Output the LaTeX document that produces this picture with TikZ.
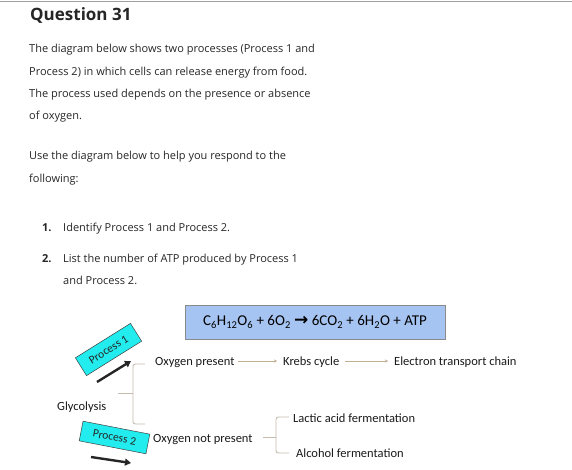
\documentclass[tikz,border=0pt]{standalone}
\usepackage{fontspec}
\setmainfont{Open Sans}
\newfontfamily\calibri{Carlito}
\newfontfamily\dejavu{DejaVu Sans}
\usetikzlibrary{arrows.meta}
\definecolor{eqfill}{HTML}{A6C4F2}
\definecolor{eqline}{HTML}{8A8A8A}
\definecolor{procfill}{HTML}{22ECEE}
\definecolor{bracecol}{HTML}{C4BBAE}
\definecolor{flowcol}{HTML}{C2AE92}
\definecolor{rulecol}{HTML}{A0A0A0}
\tikzset{
  body/.style={anchor=base west, inner sep=0pt, font=\fontsize{11}{13}\selectfont, text=black!85},
  diag/.style={anchor=base west, inner sep=0pt, font=\calibri\fontsize{12.5}{14}\selectfont, text=black!90},
  procbox/.style={draw=black!75, line width=0.5pt, fill=procfill, inner sep=0pt, font=\calibri\fontsize{11.5}{13}\selectfont, text=black!85},
  bigarrow/.style={line width=2.4pt, draw=black!85, -{Triangle[length=6pt,width=7pt]}},
  flow/.style={draw=flowcol, line width=0.6pt, -{Stealth[length=3pt,width=3pt]}},
  brace/.style={draw=bracecol, line width=0.9pt, rounded corners=2.5pt},
}
\begin{document}
\begin{tikzpicture}[x=1pt,y=-1pt]
\useasboundingbox (0,0) rectangle (572,470);
\draw[rulecol, line width=0.8pt] (0,1.5) -- (572,1.5);

\node[body, font=\bfseries\fontsize{17}{20}\selectfont] (q) at (30,21) {Question 31};
\node[body] (p1) at (29,53) {The diagram below shows two processes (Process 1 and};
\node[body] (p2) at (29,76) {Process 2) in which cells can release energy from food.};
\node[body] (p3) at (29,98) {The process used depends on the presence or absence};
\node[body] (p4) at (29,120) {of oxygen.};
\node[body] (u1) at (29,160) {Use the diagram below to help you respond to the};
\node[body] (u2) at (29,183) {following:};
\node[body, font=\bfseries\fontsize{11}{13}\selectfont] (n1) at (42,232) {1.};
\node[body] (i1) at (63,232) {Identify Process 1 and Process 2.};
\node[body, font=\bfseries\fontsize{11}{13}\selectfont] (n2) at (42,262) {2.};
\node[body] (i2) at (63,262) {List the number of ATP produced by Process 1};
\node[body] (i3) at (63,284) {and Process 2.};

% equation box
\node[draw=eqline, line width=0.8pt, fill=eqfill, minimum width=260pt, minimum height=34pt, inner sep=0pt,
      font=\calibri\fontsize{15}{17}\selectfont] (eq) at (315,322)
  {C\textsubscript{6}H\textsubscript{12}O\textsubscript{6} + 6O\textsubscript{2} {\dejavu\bfseries\fontsize{17}{17}\selectfont →} 6CO\textsubscript{2} + 6H\textsubscript{2}O + ATP};

% flow texts
\node[diag] (op) at (155,365) {Oxygen present};
\node[diag] (kc) at (283,365) {Krebs cycle};
\node[diag] (etc) at (394,365) {Electron transport chain};
\node[diag] (gly) at (57,410) {Glycolysis};
\node[diag] (onp) at (153,442) {Oxygen not present};
\node[diag] (laf) at (293,422) {Lactic acid fermentation};
\node[diag] (alf) at (296,457) {Alcohol fermentation};

\draw[flow] ([xshift=3pt]op.east |- 0,361) -- ([xshift=-6pt]kc.west |- 0,361);
\draw[flow] ([xshift=6pt]kc.east |- 0,361) -- ([xshift=-6pt]etc.west |- 0,361);

% first brace
\coordinate (b1t) at (145,364);
\coordinate (b1b) at (145,424);
\coordinate (b1m) at (118,393);
\draw[brace] (b1t) -- (133,364) -- (133,424) -- (b1b);
\draw[brace] (133,393) -- (b1m);

% second brace
\coordinate (b2t) at (289,417);
\coordinate (b2b) at (289,453);
\coordinate (b2m) at (263,437);
\draw[brace] (b2t) -- (276,417) -- (276,453) -- (b2b);
\draw[brace] (276,437) -- (b2m);

% process boxes and arrows
\node[procbox, rotate=32, minimum width=65pt, minimum height=21pt] (pr1) at (108.5,349.5) {Process 1};
\node[procbox, rotate=-11, minimum width=68pt, minimum height=20pt] (pr2) at (114.5,437.5) {Process 2};

\coordinate (a1s) at (97,382);
\coordinate (a1e) at (131,361);
\draw[bigarrow] (a1s) -- (a1e);
\coordinate (a2s) at (91,457);
\coordinate (a2e) at (131,463);
\draw[bigarrow] (a2s) -- (a2e);
\end{tikzpicture}
\end{document}
